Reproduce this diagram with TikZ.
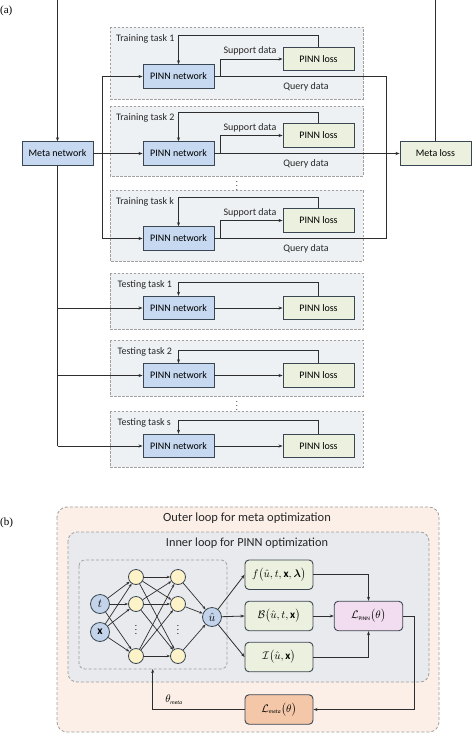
\documentclass[tikz,border=0pt]{standalone}
\usepackage{amsmath,amssymb,bm}
\usepackage{fontspec}
\setmainfont{Carlito}
\newfontfamily\serif{Liberation Serif}
\usetikzlibrary{arrows.meta,calc}
\definecolor{linec}{HTML}{2E2E2E}
\definecolor{boxline}{HTML}{3A4652}
\definecolor{bluef}{HTML}{C6D9F0}
\definecolor{greenf}{HTML}{EBF1DE}
\definecolor{taskf}{HTML}{EEF1F4}
\definecolor{dashc}{HTML}{A0A0A0}
\definecolor{outerf}{HTML}{FBEFE7}
\definecolor{innerf}{HTML}{E9EAEE}
\definecolor{pinkf}{HTML}{F2DCF0}
\definecolor{orangef}{HTML}{F4C7A8}
\definecolor{yellowf}{HTML}{FEF3C8}
\definecolor{circf}{HTML}{C3D4EA}
\newcommand{\TrainTask}[6]{%
  \draw[taskbox] (110,#2) rectangle (363,#3);
  \node[lbl,anchor=west] at (116,#2+11.5) {#6};
  \node[netbox] (net#1) at (178.5,#4) {PINN network};
  \node[lossbox] (loss#1) at (318.5,#5) {PINN loss};
  \draw[ln,arr] (loss#1.north) -- ++(0,-11) -| (net#1.north);
  \coordinate (sp#1) at ($(net#1.east)+(6,0)$);
  \draw[ln,arr] (sp#1) |- (loss#1.west);
  \node[lbl] at (250,#5-8) {Support data};
  \node[lbl] at (306,#4+10) {Query data};
}
\newcommand{\TestTask}[5]{%
  \draw[taskbox] (110,#2) rectangle (363,#3);
  \node[lbl,anchor=west] at (117.5,#2+11.5) {#5};
  \node[netbox] (tnet#1) at (178.5,#4) {PINN network};
  \node[lossbox] (tloss#1) at (318.5,#4) {PINN loss};
  \draw[ln,arr] (tloss#1.north) -- ++(0,-13) -| (tnet#1.north);
  \draw[ln,arr] (tnet#1) -- (tloss#1);
}
\begin{document}
\begin{tikzpicture}[x=1pt,y=-1pt,
  ln/.style={draw=linec,line width=0.8pt},
  arr/.style={-{Stealth[length=4pt,width=3pt]}},
  netbox/.style={draw=boxline,fill=bluef,line width=0.9pt,minimum width=71pt,minimum height=23.5pt,inner sep=0pt,font=\fontsize{10}{11}\selectfont},
  lossbox/.style={netbox,fill=greenf},
  taskbox/.style={draw=dashc,fill=taskf,line width=0.8pt,dash pattern=on 2.5pt off 1.5pt},
  lbl/.style={inner sep=0pt,font=\fontsize{10}{11}\selectfont,text=black!85},
  bigbox/.style={draw=dashc,line width=0.8pt,dash pattern=on 3pt off 2pt},
  inp/.style={circle,draw=boxline,fill=circf,line width=0.8pt,minimum size=19pt,inner sep=0pt,font=\fontsize{11.5}{12}\selectfont},
  hid/.style={circle,draw=boxline,fill=yellowf,line width=0.8pt,minimum size=15pt,inner sep=0pt},
  mbox/.style={draw=boxline,line width=0.9pt,rounded corners=4pt,minimum width=68pt,minimum height=29.5pt,inner sep=0pt,font=\fontsize{11}{12}\selectfont},
  narr/.style={ln,line width=0.7pt,-{Stealth[length=3.5pt,width=2.6pt]}}
]
\useasboundingbox (0,0) rectangle (474,738);
\fill[white] (0,0) rectangle (474,738);
\coordinate (top) at (0,0);
% ---------- (a)
\node[anchor=west,inner sep=0pt,font=\serif\fontsize{11}{12}\selectfont] (la) at (0,11) {(a)};
\TrainTask{1}{27}{99}{76.5}{59}{Training task 1}
\TrainTask{2}{106}{176}{153.5}{135.5}{Training task 2}
\TrainTask{k}{190}{261}{238.5}{220.5}{Training task k}
\node[inner sep=0pt,font=\fontsize{8}{8}\selectfont] (d1) at (237,183) {$\vdots$};
\TestTask{1}{273}{329}{308}{Testing task 1}
\TestTask{2}{340}{396}{375.5}{Testing task 2}
\node[inner sep=0pt,font=\fontsize{8}{8}\selectfont] (d2) at (237,403) {$\vdots$};
\TestTask{s}{411}{467}{446}{Testing task s}
\node[netbox] (meta) at (57.5,153.5) {Meta network};
\node[lossbox] (mloss) at (435.5,153.5) {Meta loss};
\coordinate (lbus) at (102,0);
\coordinate (rbus) at (386,0);
\draw[ln] (net1.west -| lbus) -- (netk.west -| lbus);
\draw[ln,arr] (net1.west -| lbus) -- (net1.west);
\draw[ln,arr] (netk.west -| lbus) -- (netk.west);
\draw[ln,arr] (meta.east) -- (net2.west);
\draw[ln] (net1.east) -- (net1.east -| rbus) -- (netk.east -| rbus) -- (netk.east);
\draw[ln,arr] (net2.east) -- (mloss.west);
\draw[ln,arr] (meta.north |- top) -- (meta.north);
\draw[ln] (mloss.north) -- (mloss.north |- top);
\draw[ln] (meta.south) -- (meta.south |- tnets.west);
\draw[ln,arr] (tnet1.west -| meta.south) -- (tnet1.west);
\draw[ln,arr] (tnet2.west -| meta.south) -- (tnet2.west);
\draw[ln,arr] (tnets.west -| meta.south) -- (tnets.west);
% ---------- (b)
\node[anchor=west,inner sep=0pt,font=\serif\fontsize{11}{12}\selectfont] (lb) at (0,523) {(b)};
\draw[bigbox,fill=outerf,rounded corners=10pt] (57,507) rectangle (439,732);
\draw[bigbox,fill=innerf,rounded corners=9pt] (68,532) rectangle (429,682);
\draw[bigbox,rounded corners=6pt] (79,560) rectangle (227,669);
\node[inner sep=0pt,font=\fontsize{12.5}{13}\selectfont,text=black!85] (ot) at (247,518) {Outer loop for meta optimization};
\node[inner sep=0pt,font=\fontsize{12.3}{13}\selectfont,text=black!85] (it) at (247,543) {Inner loop for PINN optimization};
\node[inp] (t) at (100,604) {$t$};
\node[inp] (xx) at (100,632) {$\mathbf{x}$};
\node[hid] (a1) at (136,577) {};
\node[hid] (a2) at (136,604) {};
\node[hid] (a3) at (136,656) {};
\node[hid] (b1) at (178,577) {};
\node[hid] (b2) at (178,604) {};
\node[hid] (b3) at (178,656) {};
\node[inner sep=0pt,font=\fontsize{9}{9}\selectfont] (da) at (136,627) {$\vdots$};
\node[inner sep=0pt,font=\fontsize{9}{9}\selectfont] (db) at (178,627) {$\vdots$};
\node[inp] (u) at (212,617) {$\hat u$};
\foreach \s in {t,xx} \foreach \d in {a1,a2,a3} \draw[narr] (\s) -- (\d);
\foreach \s in {a1,a2,a3} \foreach \d in {b1,b2,b3} \draw[narr] (\s) -- (\d);
\foreach \s in {b1,b2,b3} \draw[narr] (\s) -- (u);
\node[mbox,fill=greenf] (f) at (279,574.7) {$f\bigl(\hat u,t,\mathbf{x},\boldsymbol{\lambda}\bigr)$};
\node[mbox,fill=greenf] (B) at (279,616) {$\mathcal{B}\bigl(\hat u,t,\mathbf{x}\bigr)$};
\node[mbox,fill=greenf] (I) at (279,657) {$\mathcal{I}\bigl(\hat u,\mathbf{x}\bigr)$};
\node[mbox,fill=pinkf,minimum width=68.5pt] (Lp) at (368.5,616) {$\mathcal{L}_{\mathrm{\scriptscriptstyle PINN}}\bigl(\theta\bigr)$};
\node[mbox,fill=orangef] (Lm) at (279,709.5) {$\mathcal{L}_{\mathit{\scriptscriptstyle meta}}\bigl(\theta\bigr)$};
\draw[ln,arr] (u) -- (f.west);
\draw[ln,arr] (u) -- (B.west);
\draw[ln,arr] (u) -- (I.west);
\draw[ln,arr] (f.east) -| (Lp.north);
\draw[ln,arr] (B) -- (Lp);
\draw[ln,arr] (I.east) -| (Lp.south);
\draw[ln,arr] (Lp.east) -- ++(11,0) |- (Lm.east);
\coordinate (nnb) at (152.7,669);
\draw[ln,arr] (Lm.west) -| (nnb);
\node[inner sep=0pt,font=\fontsize{11}{12}\selectfont] (th) at (174,700) {$\theta_{\mathit{\scriptscriptstyle meta}}$};
\end{tikzpicture}
\end{document}
